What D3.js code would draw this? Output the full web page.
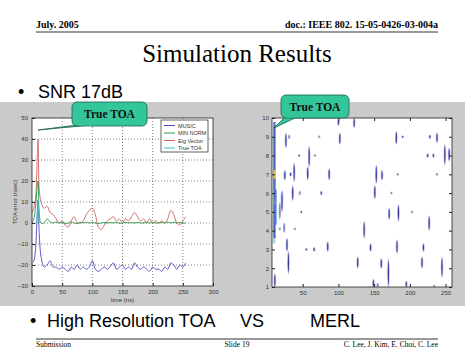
<!DOCTYPE html>
<html><head><meta charset="utf-8">
<script src="https://cdn.jsdelivr.net/npm/d3@7"></script>
<style>body{margin:0;background:#fff}svg{display:block}</style>
</head><body>
<svg id="c" width="474" height="355"></svg>
<script>
// ---------- data ----------
const timeNs     = [0,3,6,8,10,12,15,20,25,30,35,40,45,50,55,60,65,70,75,80,85,90,95,100,105,110,115,120,125,130,135,140,145,150,155,160,165,170,175,180,185,190,195,200,205,210,215,220,225,230,235,240,245,250,255];
const musicErr   = [-19,-18,-12,0,11,-5,-16,-21,-20,-18,-21,-21,-22,-21,-22,-23,-21,-22,-20,-22,-21,-22,-21,-18,-22,-23,-22,-21,-22,-20.5,-19,-22,-21,-20,-22,-21,-22,-19,-21,-22,-21,-22,-23,-21,-22,-22,-23,-21,-22,-19,-20,-22,-20,-21,-19];
const minNormErr = [0,2,8,15,20,5,0,0,2,0.5,0,0.5,0,0.3,-0.3,0,0.5,0,-0.3,0.3,0,0.4,0,0.3,0,-0.3,0,0.3,0,0.2,0,0.3,-0.2,0,0.3,0,0.2,0,0.3,0,0,0.3,0,0.2,0,0,0.3,0,0.5,0,0.4,0,0.3,0,0];
const eigVecErr  = [5,7,12,25,40,16,10,7,8,5,4,2,0,1,-1,-2,1,3,0,0,1,4,6,7,4,-2,-3,-1,1,2,3,1,2,0,2,1,3,5,3,1,2,0,2,0,1,0,1,0,2,6,4,0,-1,1,3];
const trueToaX   = [8,10,12];
const trueToaY   = [0,11,0];
const seriesNames = ["MUSIC","MIN NORM","Eig Vector","True TOA"];
const leftXTicks = [0,50,100,150,200,250,300];
const leftYTicks = [-30,-20,-10,0,10,20,30,40,50];
const rightXTicks = [50,100,150,200,250];
const rightYTicks = [1,2,3,4,5,6,7,8,9,10];
// MERL contour blobs: [time(ns), yLow, yHigh, kind]  kind: 0 faint, 1 dark
const merlBlobs = [
 [31,8.9,9.1,0],[26.5,8.4,9.2,1],[73,8.95,9.05,0],[100,9.6,9.95,1],[122,9.5,10,1],[102,8.6,9.2,1],
 [181,8.6,9.3,1],[190,8.95,9.05,1],[228,8.9,9.1,1],[238,8.7,9.2,1],[249,7.5,8.6,1],[255,7.7,8.4,1],
 [225,7.9,8.1,1],[233,7.9,8.1,1],[45,7.95,8.05,1],[59,7.4,8.5,1],[67,7.95,8.05,0],[57,6.7,7.4,1],
 [25,6.7,7.2,1],[33,6.9,7.1,1],[38,6.6,7.6,1],[87,6.7,7.3,1],[153,6.5,7.5,1],[161,6.7,7.2,1],
 [183,6.95,7.05,0],[238,6.95,7.05,0],[21,5.6,6.1,1],[36,5.6,6.4,1],[46,5.9,6.1,0],[76,5.9,6.1,1],
 [151,5.7,6.4,1],[174,5.95,6.05,0],[21,5.0,6.1,1],[18,4.6,5.5,0],[24,3.9,4.4,0],[18,4.05,4.15,0],
 [39,4.05,4.15,0],[48,4.95,5.05,1],[28,2.9,3.6,1],[30,1.7,2.9,1],[11,1.0,1.7,1],[55,2.95,3.05,1],
 [66,2.9,3.1,1],[85,2.9,3.4,1],[136,3.6,4.5,1],[145,2.9,3.3,1],[127,2.0,2.6,1],[160,2.0,2.5,1],
 [170,1.0,2.5,1],[182,2.8,3.5,1],[171,4.6,5.2,1],[184,4.5,5.4,1],[203,4.95,5.05,0],[227,4.0,4.8,1],
 [219,2.9,3.3,1],[217,2.0,2.6,1],[245,1.5,2.6,1],[149,1.0,1.4,1],[155,1.0,1.2,0],[195,1.0,1.3,1],[234,1.0,1.1,0]
];
// main true-TOA ridge segments: [time, yLow, yHigh, colour]
const merlRidge = [
 [10,3.3,9.6,"#8fd0f0"],[10.5,3.6,9.8,"#3a5cc0"],[11,6.75,7.25,"#f2d23c"],[11,5.4,5.7,"#8fd07a"],[12,4.3,6.2,"#4a7ad8"]
];

// ---------- drawing ----------
const svg = d3.select("#c");
const serif = "'Liberation Serif','Times New Roman',serif";
const sans = "'Liberation Sans',Arial,sans-serif";

// header
svg.append("text").attr("x",36).attr("y",28).attr("font-family",serif).attr("font-weight","bold").attr("font-size",10).text("July. 2005");
svg.append("text").attr("x",438).attr("y",28).attr("text-anchor","end").attr("font-family",serif).attr("font-weight","bold").attr("font-size",10).text("doc.: IEEE 802. 15-05-0426-03-004a");
svg.append("line").attr("x1",36).attr("x2",438).attr("y1",32).attr("y2",32).attr("stroke","#333").attr("stroke-width",1);
svg.append("text").attr("x",237).attr("y",62).attr("text-anchor","middle").attr("font-family",serif).attr("font-size",25).text("Simulation Results");
svg.append("text").attr("x",18).attr("y",98).attr("font-family",sans).attr("font-size",18).text("•");
svg.append("text").attr("x",38).attr("y",98).attr("font-family",sans).attr("font-size",18).text("SNR 17dB");

// gray panel
svg.append("rect").attr("x",0).attr("y",102).attr("width",465).attr("height",204).attr("fill","#cacaca");

// ---------- left chart ----------
const L = {x0:32,x1:213,y0:118,y1:286};
const lx = d3.scaleLinear().domain([0,300]).range([L.x0,L.x1]);
const ly = d3.scaleLinear().domain([-30,50]).range([L.y1,L.y0]);
const lg = svg.append("g");
lg.append("rect").attr("x",L.x0).attr("y",L.y0).attr("width",L.x1-L.x0).attr("height",L.y1-L.y0).attr("fill","#fff");
// grid
lg.selectAll(".gx").data(leftXTicks.slice(1,-1)).join("line").attr("x1",d=>lx(d)).attr("x2",d=>lx(d)).attr("y1",L.y0).attr("y2",L.y1).attr("stroke","#333").attr("stroke-width",0.6).attr("stroke-dasharray","1,2");
lg.selectAll(".gy").data(leftYTicks.slice(1,-1)).join("line").attr("y1",d=>ly(d)).attr("y2",d=>ly(d)).attr("x1",L.x0).attr("x2",L.x1).attr("stroke","#333").attr("stroke-width",0.6).attr("stroke-dasharray","1,2");
const line = d3.line().x(d=>lx(d[0])).y(d=>ly(d[1])).curve(d3.curveCatmullRom);
const mk = arr => timeNs.map((t,i)=>[t,arr[i]]);
lg.append("path").attr("d",line(mk(musicErr))).attr("fill","none").attr("stroke","#4a4ac0").attr("stroke-width",0.9);
lg.append("path").attr("d",line(mk(eigVecErr))).attr("fill","none").attr("stroke","#d06060").attr("stroke-width",0.9);
lg.append("path").attr("d",line(mk(minNormErr))).attr("fill","none").attr("stroke","#2a9a4a").attr("stroke-width",0.9);
lg.append("path").attr("d",d3.line().x(d=>lx(d[0])).y(d=>ly(d[1]))(trueToaX.map((t,i)=>[t,trueToaY[i]]))).attr("fill","none").attr("stroke","#40c0c0").attr("stroke-width",0.9);
lg.append("rect").attr("x",L.x0).attr("y",L.y0).attr("width",L.x1-L.x0).attr("height",L.y1-L.y0).attr("fill","none").attr("stroke","#222").attr("stroke-width",0.8);
const lax = d3.axisBottom(lx).tickValues(leftXTicks).tickSize(-3).tickPadding(4);
lg.append("g").attr("transform",`translate(0,${L.y1})`).call(lax).call(g=>{g.select(".domain").remove();g.selectAll("text").attr("font-size",6).attr("font-family",sans).attr("fill","#333");g.selectAll("line").attr("stroke","#222");});
const lay = d3.axisLeft(ly).tickValues(leftYTicks).tickSize(-3).tickPadding(4);
lg.append("g").attr("transform",`translate(${L.x0},0)`).call(lay).call(g=>{g.select(".domain").remove();g.selectAll("text").attr("font-size",6).attr("font-family",sans).attr("fill","#333");g.selectAll("line").attr("stroke","#222");});
lg.append("text").attr("x",(L.x0+L.x1)/2).attr("y",302).attr("text-anchor","middle").attr("font-family",sans).attr("font-size",6).attr("fill","#333").text("time (ns)");
lg.append("text").attr("transform",`translate(17,${(L.y0+L.y1)/2}) rotate(-90)`).attr("text-anchor","middle").attr("font-family",sans).attr("font-size",6).attr("fill","#333").text("TOA error (nsec)");
// legend
const legColors = ["#4a4ac0","#2a9a4a","#d06060","#40c0c0"];
const leg = lg.append("g");
leg.append("rect").attr("x",161).attr("y",120).attr("width",47).attr("height",32).attr("fill","#fff").attr("stroke","#222").attr("stroke-width",0.7);
seriesNames.forEach((n,i)=>{
  const yy = 125.5+i*7.5;
  leg.append("line").attr("x1",164).attr("x2",175).attr("y1",yy).attr("y2",yy).attr("stroke",legColors[i]).attr("stroke-width",1);
  leg.append("text").attr("x",178).attr("y",yy+2).attr("font-family",sans).attr("font-size",5.5).attr("fill","#333").text(n);
});

// ---------- right chart ----------
const R = {x0:272,x1:452,y0:118,y1:287};
const rx = d3.scaleLinear().domain([7,259]).range([R.x0,R.x1]);
const ry = d3.scaleLinear().domain([1,10]).range([R.y1,R.y0]);
const rg = svg.append("g");
rg.append("rect").attr("x",R.x0).attr("y",R.y0).attr("width",R.x1-R.x0).attr("height",R.y1-R.y0).attr("fill","#fff");
merlRidge.forEach(d=>{
  rg.append("rect").attr("x",rx(d[0])-1.1).attr("y",ry(d[2])).attr("width",2.2).attr("height",ry(d[1])-ry(d[2])).attr("rx",1).attr("fill",d[3]).attr("opacity",0.9);
});
merlBlobs.forEach(d=>{
  const cx = rx(d[0]), cy = ry((d[1]+d[2])/2), h = Math.max(1.0,(ry(d[1])-ry(d[2]))/2);
  rg.append("ellipse").attr("cx",cx).attr("cy",cy).attr("rx",1.3).attr("ry",h+0.5).attr("fill","#bcbce0");
  rg.append("ellipse").attr("cx",cx).attr("cy",cy).attr("rx",d[3]?0.55:0.45).attr("ry",h*0.85).attr("fill",d[3]?"#33339a":"#6a6ab0");
});
rg.append("rect").attr("x",R.x0).attr("y",R.y0).attr("width",R.x1-R.x0).attr("height",R.y1-R.y0).attr("fill","none").attr("stroke","#222").attr("stroke-width",0.8);
const rax = d3.axisBottom(rx).tickValues(rightXTicks).tickSize(-3).tickPadding(4);
rg.append("g").attr("transform",`translate(0,${R.y1})`).call(rax).call(g=>{g.select(".domain").remove();g.selectAll("text").attr("font-size",6).attr("font-family",sans).attr("fill","#333");g.selectAll("line").attr("stroke","#222");});
rg.append("g").attr("transform",`translate(0,${R.y0})`).call(d3.axisTop(rx).tickValues(rightXTicks).tickSize(-3).tickFormat("")).call(g=>{g.select(".domain").remove();g.selectAll("line").attr("stroke","#222");});
const ray = d3.axisLeft(ry).tickValues(rightYTicks).tickSize(-3).tickPadding(3);
rg.append("g").attr("transform",`translate(${R.x0},0)`).call(ray).call(g=>{g.select(".domain").remove();g.selectAll("text").attr("font-size",6).attr("font-family",sans).attr("fill","#333");g.selectAll("line").attr("stroke","#222");});
rg.append("g").attr("transform",`translate(${R.x1},0)`).call(d3.axisRight(ry).tickValues(rightYTicks).tickSize(-3).tickFormat("")).call(g=>{g.select(".domain").remove();g.selectAll("line").attr("stroke","#222");});

// ---------- callouts ----------
function callout(x,y,w,h,tipX,tipY,b1,b2){
  const g = svg.append("g");
  g.append("path").attr("d",`M${x+b1},${y+h-1} L${tipX},${tipY} L${x+b2},${y+h-1} Z`).attr("fill","#33c69a").attr("stroke","#1f5f4a").attr("stroke-width",0.8);
  g.append("rect").attr("x",x).attr("y",y).attr("width",w).attr("height",h).attr("rx",5).attr("fill","#33c69a").attr("stroke","#1f5f4a").attr("stroke-width",0.8);
  g.append("path").attr("d",`M${x+b1+0.8},${y+h-1.5} L${x+b2-0.8},${y+h-1.5}`).attr("stroke","#33c69a").attr("stroke-width",2);
  g.append("text").attr("x",x+w/2).attr("y",y+h/2+4).attr("text-anchor","middle").attr("font-family",serif).attr("font-weight","bold").attr("font-size",11.5).attr("fill","#111").text("True TOA");
}
callout(72,102,75,24,38,130,5,20);
callout(281,95,68,23,274,128,4,16);

// bottom text
svg.append("text").attr("x",30).attr("y",327).attr("font-family",sans).attr("font-size",18).text("•");
svg.append("text").attr("x",47).attr("y",327).attr("font-family",sans).attr("font-size",18).text("High Resolution TOA");
svg.append("text").attr("x",240).attr("y",327).attr("font-family",sans).attr("font-size",18).text("VS");
svg.append("text").attr("x",310).attr("y",327).attr("font-family",sans).attr("font-size",18).text("MERL");
svg.append("line").attr("x1",36).attr("x2",438).attr("y1",339).attr("y2",339).attr("stroke","#333").attr("stroke-width",1);
svg.append("text").attr("x",36).attr("y",347).attr("font-family",serif).attr("font-size",7.5).text("Submission");
svg.append("text").attr("x",237).attr("y",347).attr("text-anchor","middle").attr("font-family",serif).attr("font-size",7.5).text("Slide 19");
svg.append("text").attr("x",438).attr("y",347).attr("text-anchor","end").attr("font-family",serif).attr("font-size",7.5).text("C. Lee, J. Kim, E. Choi, C. Lee");
</script>
</body></html>
